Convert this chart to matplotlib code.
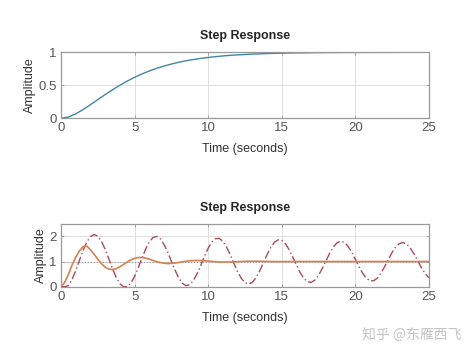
import matplotlib
matplotlib.use("Agg")
import matplotlib.pyplot as plt

plt.rcParams['font.family'] = ['Liberation Sans', 'DejaVu Sans']

# ---- data ----
t_top = [0.0, 0.5, 1.0, 1.5, 2.0, 2.5, 3.0, 3.5, 4.0, 4.5, 5.0, 5.5, 6.0, 6.5, 7.0, 7.5,
         8.0, 8.5, 9.0, 9.5, 10.0, 10.5, 11.0, 11.5, 12.0, 12.5, 13.0, 13.5, 14.0, 14.5,
         15.0, 15.5, 16.0, 16.5, 17.0, 17.5, 18.0, 18.5, 19.0, 19.5, 20.0, 20.5, 21.0,
         21.5, 22.0, 22.5, 23.0, 23.5, 24.0, 24.5, 25.0]
y_top = [0.0, 0.019, 0.067, 0.132, 0.206, 0.283, 0.359, 0.432, 0.501, 0.564, 0.621,
         0.672, 0.717, 0.757, 0.792, 0.822, 0.849, 0.872, 0.891, 0.908, 0.922, 0.934,
         0.945, 0.954, 0.961, 0.967, 0.973, 0.977, 0.981, 0.984, 0.987, 0.989, 0.991,
         0.992, 0.994, 0.995, 0.996, 0.996, 0.997, 0.998, 0.998, 0.998, 0.999, 0.999,
         0.999, 0.999, 1.0, 1.0, 1.0, 1.0, 1.0]

t_bot = [i * 0.25 for i in range(101)]
y_solid = [0.0, 0.17, 0.48, 0.86, 1.17, 1.42, 1.585, 1.615, 1.467, 1.287, 1.091, 0.913,
           0.777, 0.699, 0.681, 0.716, 0.790, 0.885, 0.982, 1.067, 1.127, 1.158, 1.158,
           1.134, 1.092, 1.043, 0.995, 0.956, 0.930, 0.919, 0.923, 0.938, 0.961, 0.986,
           1.009, 1.027, 1.038, 1.041, 1.037, 1.028, 1.016, 1.003, 0.992, 0.984, 0.980,
           0.980, 0.982, 0.988, 0.994, 1.000, 1.005, 1.009, 1.010, 1.010, 1.008, 1.005,
           1.002, 0.999, 0.997, 0.996, 0.996, 0.997, 0.998, 1.000, 1.0, 1.0, 1.0, 1.0,
           1.0, 1.0, 1.0, 1.0, 1.0, 1.0, 1.0, 1.0, 1.0, 1.0, 1.0, 1.0, 1.0, 1.0, 1.0,
           1.0, 1.0, 1.0, 1.0, 1.0, 1.0, 1.0, 1.0, 1.0, 1.0, 1.0, 1.0, 1.0, 1.0, 1.0,
           1.0, 1.0, 1.0]
y_dash = [0.0, 0.0, 0.04, 0.285, 0.641, 1.044, 1.438, 1.767, 1.988, 2.070, 2.003, 1.798,
          1.485, 1.106, 0.716, 0.369, 0.112, 0.0, 0.0, 0.141, 0.410, 0.756, 1.134, 1.491,
          1.776, 1.951, 1.994, 1.899, 1.679, 1.367, 1.009, 0.650, 0.346, 0.131, 0.040,
          0.083, 0.252, 0.523, 0.858, 1.210, 1.530, 1.774, 1.908, 1.916, 1.797, 1.568,
          1.263, 0.924, 0.598, 0.331, 0.158, 0.104, 0.174, 0.357, 0.628, 0.949, 1.273,
          1.557, 1.762, 1.859, 1.837, 1.699, 1.466, 1.169, 0.852, 0.558, 0.328, 0.193,
          0.171, 0.263, 0.457, 0.724, 1.028, 1.325, 1.574, 1.742, 1.806, 1.758, 1.605,
          1.370, 1.085, 0.791, 0.528, 0.334, 0.232, 0.238, 0.349, 0.550, 0.811, 1.096,
          1.366, 1.582, 1.717, 1.750, 1.680, 1.516, 1.283, 1.012, 0.741, 0.510, 0.346]

x_ticks = [0, 5, 10, 15, 20, 25]
y_ticks_top = [0, 0.5, 1]
y_ticks_bot = [0, 1, 2]
title_text = "Step Response"
xlabel_text = "Time (seconds)"
ylabel_text = "Amplitude"
watermark = "知乎 @东雁西飞"

# ---- figure ----
W, H = 474, 355
fig = plt.figure(figsize=(W / 100, H / 100), dpi=100)
fig.patch.set_facecolor('white')

edge = '#9a9a9a'
tick_col = '#555555'
grid_col = '#dedede'


def style(ax, yticks, ylim):
    ax.set_xlim(0, 25)
    ax.set_ylim(*ylim)
    ax.set_xticks(x_ticks)
    ax.set_xticklabels([str(v) for v in x_ticks])
    ax.set_yticks(yticks)
    ax.set_yticklabels([('%g' % v) for v in yticks])
    for s in ax.spines.values():
        s.set_color(edge)
        s.set_linewidth(0.9)
    ax.tick_params(direction='in', length=2.5, width=0.6, colors=edge,
                   labelcolor=tick_col, labelsize=9.5, right=True, top=True, pad=3)
    ax.grid(True, color=grid_col, linewidth=0.7)
    ax.set_axisbelow(True)
    ax.set_title(title_text, fontsize=9, fontweight='bold', color='#262626', pad=9.5)
    ax.set_xlabel(xlabel_text, fontsize=9, color='#333333', labelpad=6.5)
    ax.set_ylabel(ylabel_text, fontsize=9, color='#333333', labelpad=1.5)


ax1 = fig.add_axes([61 / W, 1 - 118.3 / H, 368 / W, 66 / H])
ax1.plot(t_top, y_top, color='#3f86a6', linewidth=1.0)
style(ax1, y_ticks_top, (0, 1))

ax2 = fig.add_axes([61 / W, 1 - 286.7 / H, 368 / W, 63 / H])
ax2.axhline(1.0, color='#9a9a9a', linestyle=':', linewidth=0.8)
ax2.plot(t_bot, y_dash, color='#ac4a58', linestyle=(0, (6, 2, 1, 2)), linewidth=1.0)
ax2.plot(t_bot, y_solid, color='#d8804f', linewidth=1.2)
style(ax2, y_ticks_bot, (0, 2.5))

fig.text(462 / W, 1 - 336 / H, watermark, ha='right', va='center', fontsize=10,
         color='#c4c4c4', family=['Noto Sans CJK SC', 'DejaVu Sans'])

fig.savefig('out.png', dpi=100, facecolor='white')
